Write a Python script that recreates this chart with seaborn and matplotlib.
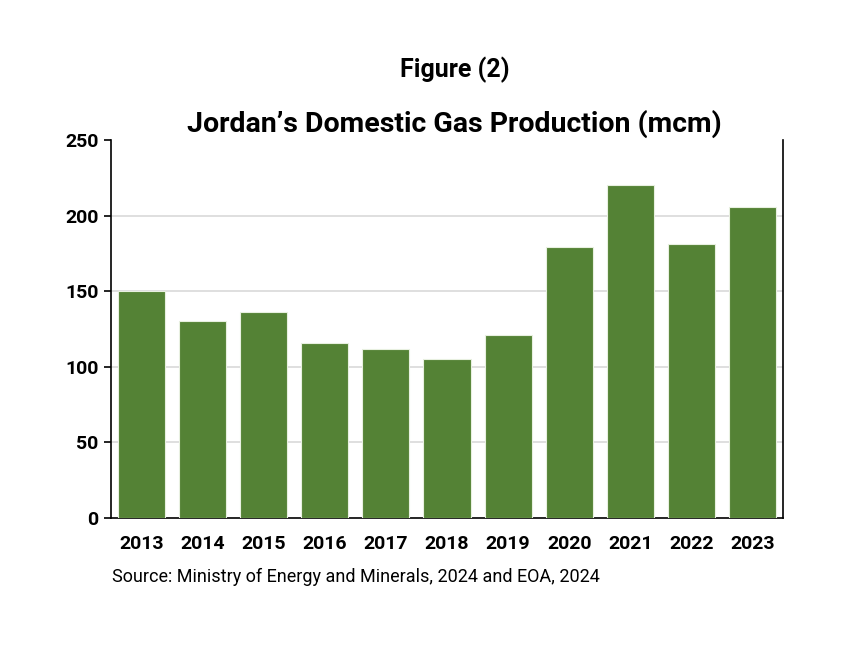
import matplotlib
matplotlib.use("Agg")
import matplotlib.pyplot as plt
import seaborn as sns
import pandas as pd
import numpy as np

years = ["2013", "2014", "2015", "2016", "2017", "2018", "2019", "2020", "2021", "2022", "2023"]
production = [150, 130, 136, 116, 112, 105, 121, 179, 220, 181, 206]
y_ticks = [0, 50, 100, 150, 200, 250]

sns.set_theme(style="white")
plt.rcParams['font.family'] = ['Roboto', 'DejaVu Sans']

df = pd.DataFrame({"year": years, "value": production})

fig = plt.figure(figsize=(8.49, 6.57), dpi=100)
ax = fig.add_axes([111/849, 1-518/657, (783-111)/849, (518-140)/657])

sns.barplot(data=df, x="year", y="value", color="#548235", saturation=1,
            width=0.77, edgecolor="#e8f0e0", linewidth=0.8, ax=ax, zorder=3)

ax.set_ylim(0, 250)
ax.set_xlim(-0.5, len(years) - 0.5)
ax.set_yticks(y_ticks)
ax.set_yticklabels([str(t) for t in y_ticks], fontsize=14, fontweight="bold", color="black")
for g in y_ticks[1:-1]:
    ax.axhline(g, color="#d9d9d9", linewidth=1.2, zorder=1)

ax.set_xticks(np.arange(len(years)))
ax.set_xticklabels(years, fontsize=14, fontweight="bold", color="black")
ax.set_xticks(np.arange(len(years) + 1) - 0.5, minor=True)
ax.tick_params(axis="x", which="major", length=0, pad=12)
ax.tick_params(axis="x", which="minor", length=5, width=1.2, direction="out", color="black")
ax.tick_params(axis="y", which="major", length=5, width=1.2, direction="out", color="black", pad=4, left=True)
ax.set_xlabel("")
ax.set_ylabel("")

for s in ["left", "bottom", "right"]:
    ax.spines[s].set_visible(True)
    ax.spines[s].set_color("black")
    ax.spines[s].set_linewidth(1.2)
ax.spines["top"].set_visible(False)

fig.text(455/849, 1-70/657, "Figure (2)", ha="center", va="center", fontsize=18,
         fontweight="bold", color="black")
fig.text(454/849, 1-124/657, "Jordan\u2019s Domestic Gas Production (mcm)", ha="center", va="center",
         fontsize=20.5, fontweight="bold", color="black")
fig.text(112/849, 1-577/657, "Source: Ministry of Energy and Minerals, 2024 and EOA, 2024",
         ha="left", va="center", fontsize=13, color="black")

fig.savefig("out.png", dpi=100, facecolor="white")
